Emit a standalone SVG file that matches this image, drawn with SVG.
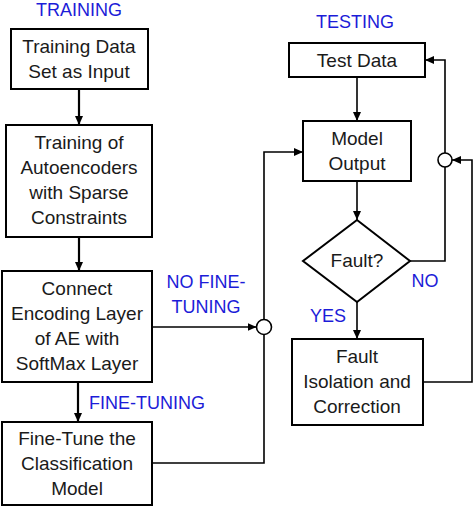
<svg xmlns="http://www.w3.org/2000/svg" width="474" height="507" viewBox="0 0 474 507">
<style>
.box{fill:#fff;stroke:#000;stroke-width:2}
.t{font-family:"Liberation Sans",Arial,sans-serif;font-size:19px;fill:#1a1a1a;text-anchor:middle}
.b{font-family:"Liberation Sans",Arial,sans-serif;font-size:18px;fill:#1c1cd8;text-anchor:middle}
.c{fill:none;stroke:#000;stroke-width:1.6}
.ck{fill:none;stroke:#000;stroke-width:2.2}
.j{fill:#fff;stroke:#000;stroke-width:1.6}
</style>
<defs>
<marker id="ah" markerUnits="userSpaceOnUse" markerWidth="10" markerHeight="10" refX="9" refY="5" orient="auto" viewBox="0 0 10 10">
<path d="M0,1 L9,5 L0,9 Z" fill="#000"/>
</marker>
</defs>
<rect width="474" height="507" fill="#fff"/>
<text class="b" x="79" y="15.5">TRAINING</text>
<text class="b" x="355" y="28">TESTING</text>
<text class="b" x="206" y="288">NO FINE-</text>
<text class="b" x="206" y="313">TUNING</text>
<text class="b" x="147" y="409">FINE-TUNING</text>
<text class="b" x="425" y="287">NO</text>
<text class="b" x="328" y="322">YES</text>
<g id="connectors">
<path class="ck" d="M79,89 V125" marker-end="url(#ah)"/>
<path class="ck" d="M79,237 V271" marker-end="url(#ah)"/>
<path class="ck" d="M78,382 V422" marker-end="url(#ah)"/>
<path class="c" d="M152,327 H256.5" marker-end="url(#ah)"/>
<path class="c" d="M152,463 H264 V334.5"/>
<path class="c" d="M264,319.5 V152 H303" marker-end="url(#ah)"/>
<path class="c" d="M357,77 V121" marker-end="url(#ah)"/>
<path class="c" d="M357,181 V220" marker-end="url(#ah)"/>
<path class="c" d="M357,302 V339" marker-end="url(#ah)"/>
<path class="c" d="M410,261 H445 V167"/>
<path class="c" d="M423,382 H472 V160 H452" marker-end="url(#ah)"/>
<path class="c" d="M445,153 V60 H425" marker-end="url(#ah)"/>
</g>
<g id="j1"><circle class="j" cx="264" cy="327" r="7.5"/></g>
<g id="j2"><circle class="j" cx="445" cy="160" r="7"/></g>
<g id="n1">
<rect class="box" x="11" y="29" width="137" height="60"/>
<text class="t" x="79" y="53">Training Data</text>
<text class="t" x="79" y="78">Set as Input</text>
</g>
<g id="n2">
<rect class="box" x="6" y="125" width="146" height="112"/>
<text class="t" x="79" y="149">Training of</text>
<text class="t" x="79" y="174">Autoencoders</text>
<text class="t" x="79" y="199">with Sparse</text>
<text class="t" x="79" y="224">Constraints</text>
</g>
<g id="n3">
<rect class="box" x="2" y="271" width="150" height="111"/>
<text class="t" x="77" y="295">Connect</text>
<text class="t" x="77" y="320">Encoding Layer</text>
<text class="t" x="77" y="345">of AE with</text>
<text class="t" x="77" y="370">SoftMax Layer</text>
</g>
<g id="n4">
<rect class="box" x="2" y="422" width="150" height="83"/>
<text class="t" x="77" y="445">Fine-Tune the</text>
<text class="t" x="77" y="470">Classification</text>
<text class="t" x="77" y="495">Model</text>
</g>
<g id="n5">
<rect class="box" x="289" y="43" width="136" height="34"/>
<text class="t" x="357" y="67">Test Data</text>
</g>
<g id="n6">
<rect class="box" x="303" y="121" width="108" height="60"/>
<text class="t" x="357" y="145">Model</text>
<text class="t" x="357" y="170">Output</text>
</g>
<g id="n7">
<path class="box" d="M357,220 L410,261 L357,302 L303,261 Z"/>
<text class="t" x="357" y="267">Fault?</text>
</g>
<g id="n8">
<rect class="box" x="292" y="339" width="131" height="86"/>
<text class="t" x="357" y="363">Fault</text>
<text class="t" x="357" y="388">Isolation and</text>
<text class="t" x="357" y="413">Correction</text>
</g>
</svg>
